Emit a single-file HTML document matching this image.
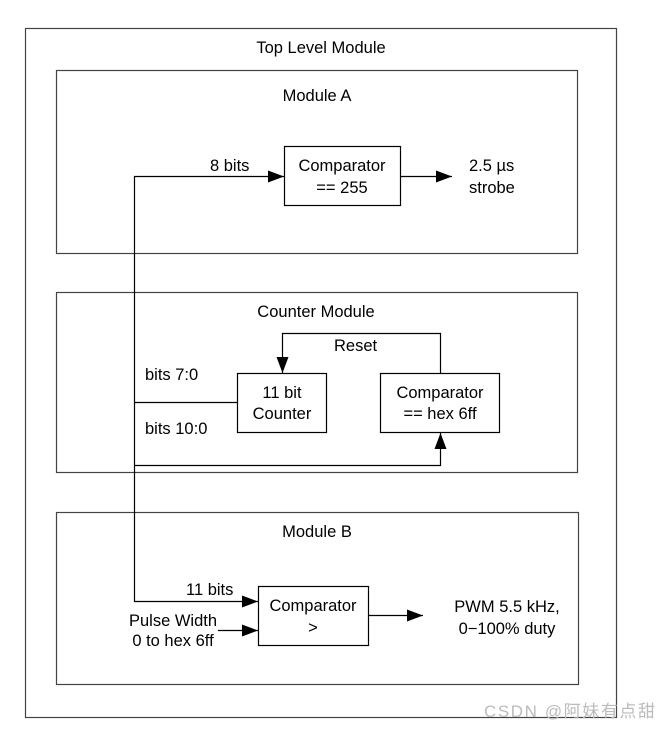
<!DOCTYPE html>
<html><head><meta charset="utf-8"><style>
html,body{margin:0;padding:0;background:#fff;}
svg{display:block;}
text{font-family:"Liberation Sans",Arial,sans-serif;font-size:16.5px;fill:#000;}
</style></head><body>
<svg width="671" height="730" viewBox="0 0 671 730" xmlns="http://www.w3.org/2000/svg">
<defs><marker id="a" markerWidth="16" markerHeight="12" refX="16" refY="6" orient="auto" markerUnits="userSpaceOnUse"><path d="M0,0 L16,6 L0,12 Z" fill="#000"/></marker></defs>
<g fill="none" stroke="#444" stroke-width="1.2">
<rect x="25.5" y="28.5" width="591" height="689"/>
<rect x="56.5" y="70.5" width="521" height="183"/>
<rect x="56.5" y="292.5" width="521" height="180"/>
<rect x="56.5" y="512.5" width="522" height="172"/>
</g>
<g fill="none" stroke="#000" stroke-width="1.2">
<rect x="284.5" y="146.5" width="116" height="59"/>
<rect x="237.5" y="373.5" width="89" height="59"/>
<rect x="380.5" y="373.5" width="119" height="59"/>
<rect x="258.5" y="586.5" width="110" height="59"/>
<path d="M134.5,592 V176.5 H284" marker-end="url(#a)"/>
<path d="M400.5,176.5 H452" marker-end="url(#a)"/>
<path d="M134.5,402.5 H237"/>
<path d="M134.5,465.5 H440.5 V433" marker-end="url(#a)"/>
<path d="M440.5,373 V333.5 H282.5 V373" marker-end="url(#a)"/>
<path d="M134.5,592 V601.5 H258" marker-end="url(#a)"/>
<path d="M218,630.5 H258" marker-end="url(#a)"/>
<path d="M368.5,615.5 H423" marker-end="url(#a)"/>
</g>
<g text-anchor="middle">
<text x="321" y="53">Top Level Module</text>
<text x="317" y="101">Module A</text>
<text x="342" y="171">Comparator</text>
<text x="342" y="193">== 255</text>
<text x="316" y="317">Counter Module</text>
<text x="282" y="398">11 bit</text>
<text x="282" y="419">Counter</text>
<text x="440" y="398">Comparator</text>
<text x="440" y="419">== hex 6ff</text>
<text x="317" y="537">Module B</text>
<text x="313" y="611">Comparator</text>
<text x="313" y="633">&gt;</text>
<text x="173" y="626">Pulse Width</text>
<text x="173" y="646">0 to hex 6ff</text>
<text x="507" y="612">PWM 5.5 kHz,</text>
<text x="507" y="634">0−100% duty</text>
</g>
<text x="210" y="171">8 bits</text>
<text x="469" y="171">2.5 µs</text>
<text x="469" y="193">strobe</text>
<text x="334" y="351">Reset</text>
<text x="145" y="380">bits 7:0</text>
<text x="145" y="434">bits 10:0</text>
<text x="186" y="595">11 bits</text>
<text x="484" y="717" style="font-family:'Liberation Sans','Noto Sans CJK SC',sans-serif;font-size:17px;fill:#bbb" textLength="171">CSDN @阿妹有点甜</text>
</svg>
</body></html>
